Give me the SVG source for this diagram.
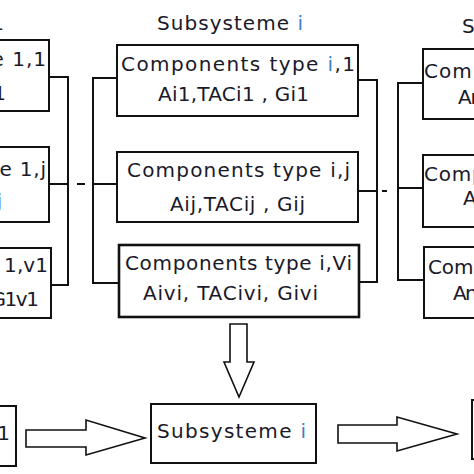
<svg xmlns="http://www.w3.org/2000/svg" width="474" height="474" viewBox="0 0 474 474">
<style>
  .box { fill: #fff; stroke: #111; stroke-width: 2; }
  .thick { stroke-width: 2.6; }
  .t { font-family: "DejaVu Sans", "Liberation Sans", sans-serif; font-size: 20px; fill: #1a1a2a; }
  .blue { fill: #3f7fc8; }
  .con { fill: none; stroke: #111; stroke-width: 2; }
  .arrow { fill: #fff; stroke: #111; stroke-width: 1.6; stroke-linejoin: miter; }
</style>
<rect width="474" height="474" fill="#fff"/>

<!-- titles -->
<text class="t" x="4" y="30" text-anchor="end">Subsysteme 1</text>
<text class="t" x="157" y="30" textLength="146" lengthAdjust="spacing">Subsysteme <tspan class="blue">i</tspan></text>
<text class="t" x="462" y="33">Subsysteme n</text>

<!-- left column (subsystem 1) -->
<g id="c11">
  <rect class="box" x="-200" y="40" width="249" height="71"/>
  <text class="t" x="-188" y="66" textLength="234" lengthAdjust="spacing">Components type 1,1</text>
  <text class="t" x="-145" y="100" textLength="151" lengthAdjust="spacing">A11,TAC11 , G11</text>
</g>
<g id="c1j">
  <rect class="box" x="-200" y="147" width="249" height="75"/>
  <text class="t" x="-177" y="176" textLength="223" lengthAdjust="spacing">Components type 1,j</text>
  <text class="t" x="-133" y="208" textLength="135" lengthAdjust="spacing">A1j,TAC1j , G1j</text>
</g>
<g id="c1v1">
  <rect class="box" x="-200" y="248" width="251" height="70"/>
  <text class="t" x="-181" y="272" textLength="229" lengthAdjust="spacing">Components type 1,v1</text>
  <text class="t" x="-141" y="306" textLength="180" lengthAdjust="spacing">A1v1, TAC1v1, G1v1</text>
</g>

<!-- middle column (subsystem i) -->
<g id="ci1">
  <rect class="box" x="117" y="45" width="241" height="71"/>
  <text class="t" x="121" y="71" textLength="234" lengthAdjust="spacing">Components type <tspan class="blue">i</tspan>,1</text>
  <text class="t" x="158" y="101" textLength="151" lengthAdjust="spacing">Ai1,TACi1 , Gi1</text>
</g>
<g id="cij">
  <rect class="box" x="117" y="152" width="241" height="70"/>
  <text class="t" x="127" y="177" textLength="223" lengthAdjust="spacing">Components type i,j</text>
  <text class="t" x="170" y="211" textLength="135" lengthAdjust="spacing">Aij,TACij , Gij</text>
</g>
<g id="civi">
  <rect class="box thick" x="119" y="245" width="240" height="72"/>
  <text class="t" x="125" y="270" textLength="227" lengthAdjust="spacing">Components type i,Vi</text>
  <text class="t" x="143" y="300" textLength="175" lengthAdjust="spacing">Aivi, TACivi, Givi</text>
</g>

<!-- right column (subsystem n) -->
<g id="cn1">
  <rect class="box" x="423" y="49" width="120" height="70"/>
  <text class="t" x="424" y="78" textLength="234" lengthAdjust="spacing">Components type n,1</text>
  <text class="t" x="458" y="104" textLength="151" lengthAdjust="spacing">An1,TACn1 , Gn1</text>
</g>
<g id="cnj">
  <rect class="box" x="423" y="155" width="120" height="72"/>
  <text class="t" x="424" y="181" textLength="223" lengthAdjust="spacing">Components type n,j</text>
  <text class="t" x="463" y="205" textLength="135" lengthAdjust="spacing">Anj,TACnj , Gnj</text>
</g>
<g id="cnvn">
  <rect class="box" x="424" y="247" width="120" height="71"/>
  <text class="t" x="428" y="274" textLength="227" lengthAdjust="spacing">Components type n,Vn</text>
  <text class="t" x="453" y="300" textLength="175" lengthAdjust="spacing">Anvn, TACnvn, Gnvn</text>
</g>

<!-- connectors -->
<g id="connectors">
  <path class="con" d="M49,77 H68 V285 H51 M49,184 H68"/>
  <path class="con" d="M77,184 H85"/>
  <path class="con" d="M117,78 H93 V283 H119 M93,184 H117"/>
  <path class="con" d="M358,80 H377 V282 H359 M358,191 H377"/>
  <path class="con" d="M382,191 H387"/>
  <path class="con" d="M423,83 H398 V280 H424 M398,188 H423"/>
</g>

<!-- bottom row -->
<g id="s1">
  <rect class="box" x="-200" y="406" width="216" height="60"/>
  <text class="t" x="10" y="440" text-anchor="end">Subsysteme 1</text>
</g>
<g id="si">
  <rect class="box" x="151" y="404" width="165" height="59"/>
  <text class="t" x="157" y="438" textLength="149" lengthAdjust="spacing">Subsysteme <tspan class="blue">i</tspan></text>
</g>
<g id="sn">
  <rect class="box" x="472" y="400" width="100" height="59"/>
</g>

<g id="arrows">
  <polygon class="arrow" points="26,430 86,430 86,420 145,438 86,455 86,447 26,447"/>
  <polygon class="arrow" points="230,324 247,324 247,362 254,362 239,397 224,362 230,362"/>
  <polygon class="arrow" points="338,425 397,425 397,417 457,434 397,451 397,443 338,443"/>
</g>
</svg>
